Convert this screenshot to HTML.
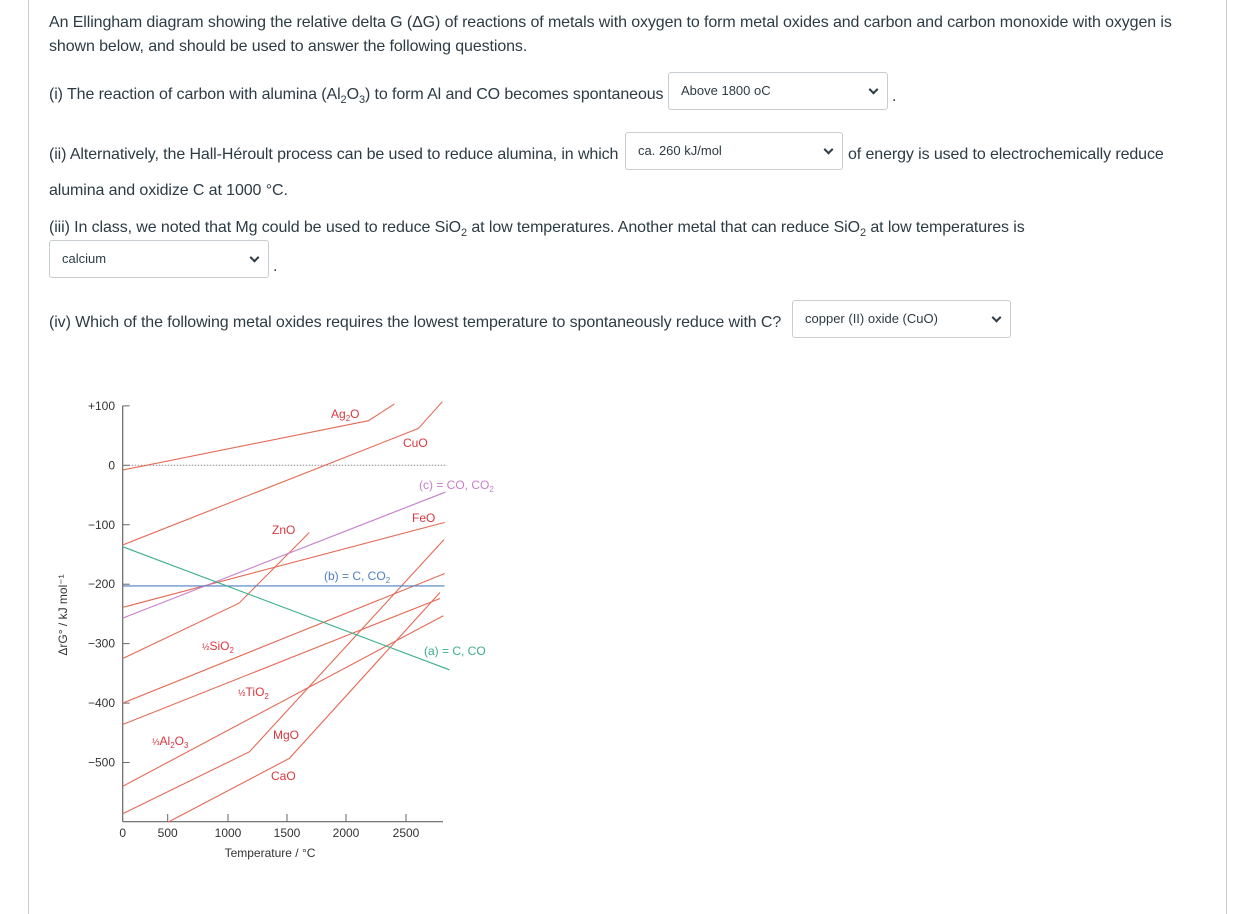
<!DOCTYPE html>
<html><head><meta charset="utf-8">
<style>
body{margin:0;width:1260px;height:914px;background:#fff;position:relative;overflow:hidden;font-family:"Liberation Sans",sans-serif;color:#2d3b45}
.t{position:absolute;font-size:16px;white-space:nowrap;line-height:18px;letter-spacing:-0.1px}
.sel{position:absolute;border:1px solid #c7cdd1;border-radius:3px;background:#fff;font-size:13px;box-sizing:border-box;padding:10px 12px;color:#2d3b45}
.sel:after{content:"";position:absolute;right:10px;top:50%;width:5px;height:5px;border-right:2px solid #2d3b45;border-bottom:2px solid #2d3b45;transform:translateY(-70%) rotate(45deg)}
.vl{position:absolute;top:0;bottom:0;width:1px;background:#c7cdd1}
sub{font-size:11px}
</style></head><body>
<div class="vl" style="left:28px"></div>
<div class="vl" style="left:1226px"></div>
<div class="t" style="left:49px;top:14px">An Ellingham diagram showing the relative delta G (ΔG) of reactions of metals with oxygen to form metal oxides and carbon and carbon monoxide with oxygen is</div>
<div class="t" style="left:49px;top:38px">shown below, and should be used to answer the following questions.</div>
<div class="t" style="left:49px;top:86px">(i) The reaction of carbon with alumina (Al<sub>2</sub>O<sub>3</sub>) to form Al and CO becomes spontaneous</div>
<div class="sel" style="left:668px;top:72px;width:220px;height:38px;padding-top:10px">Above 1800 oC</div>
<div class="t" style="left:892px;top:88px">.</div>
<div class="t" style="left:49px;top:146px">(ii) Alternatively, the Hall-Héroult process can be used to reduce alumina, in which</div>
<div class="sel" style="left:625px;top:132px;width:218px;height:38px">ca. 260 kJ/mol</div>
<div class="t" style="left:848px;top:146px">of energy is used to electrochemically reduce</div>
<div class="t" style="left:49px;top:182px">alumina and oxidize C at 1000 °C.</div>
<div class="t" style="left:49px;top:219px">(iii) In class, we noted that Mg could be used to reduce SiO<sub>2</sub> at low temperatures. Another metal that can reduce SiO<sub>2</sub> at low temperatures is</div>
<div class="sel" style="left:49px;top:240px;width:220px;height:38px">calcium</div>
<div class="t" style="left:273px;top:258px">.</div>
<div class="t" style="left:49px;top:314px">(iv) Which of the following metal oxides requires the lowest temperature to spontaneously reduce with C?</div>
<div class="sel" style="left:792px;top:300px;width:219px;height:38px">copper (II) oxide (CuO)</div>

<svg id="chart" width="1260" height="914" style="position:absolute;left:0;top:0"></svg>
<script>
const xTicks=[0,500,1000,1500,2000,2500];
const yTicks=[100,0,-100,-200,-300,-400,-500];
const yTickLabels=["+100","0","\u2212100","\u2212200","\u2212300","\u2212400","\u2212500"];
const agT=[0,2187,2403], agV=[-8,75,103];
const cuT=[0,2605,2808], cuV=[-134,62,107];
const coCo2T=[0,2835], coCo2V=[-257,-45];
const feT=[0,2829], feV=[-239,-96];
const znT=[0,1093,1689], znV=[-325,-232,-113];
const cCo2T=[0,2827], cCo2V=[-203,-203];
const cCoT=[0,2868], cCoV=[-137,-344];
const siT=[0,2829], siV=[-400,-182];
const tiT=[0,2788], tiV=[-436,-224];
const alT=[0,2816], alV=[-540,-253];
const mgT=[0,1181,2822], mgV=[-586,-482,-125];
const caT=[505,1520,2788], caV=[-600,-493,-214];
const NS="http://www.w3.org/2000/svg";
const svg=document.getElementById('chart');
const xDom=[0,500,1000,1500,2000,2500,3000], xRng=[122.7,167.7,228,287,346,406,465];
function X(t){
 for(let i=0;i<xDom.length-1;i++){
  if(t<=xDom[i+1]||i===xDom.length-2){
   const f=(t-xDom[i])/(xDom[i+1]-xDom[i]);return xRng[i]+f*(xRng[i+1]-xRng[i]);
  }
 }
}
const Y=v=>465.3-v*0.5945;
function el(tag,attrs,parent){const e=document.createElementNS(NS,tag);for(const k in attrs)e.setAttribute(k,attrs[k]);(parent||svg).appendChild(e);return e;}
const axis="#666";
let a=el('line',{x1:X(0),y1:Y(100),x2:X(0),y2:821.7,stroke:axis,'stroke-width':1.2});

a=el('line',{x1:X(0),y1:821.7,x2:443,y2:821.7,stroke:axis,'stroke-width':1.2});

yTicks.forEach((v,i)=>{
 const tk=el('line',{x1:X(0),y1:Y(v),x2:X(0)+7,y2:Y(v),stroke:axis});
 
 const tx=el('text',{x:115,y:Y(v)+4,'text-anchor':'end','font-size':12,fill:'#333','font-family':'Liberation Sans'});
 tx.textContent=yTickLabels[i];
 
});
xTicks.forEach(t=>{
 if(t>0){const tk=el('line',{x1:X(t),y1:821.7,x2:X(t),y2:814,stroke:axis});
 }
 const tx=el('text',{x:X(t),y:837,'text-anchor':'middle','font-size':12,fill:'#333','font-family':'Liberation Sans'});
 tx.textContent=String(t);
 
});
let zl=el('line',{x1:X(0),y1:Y(0),x2:447,y2:Y(0),stroke:'#888','stroke-dasharray':'1.5,1.5'});

let xt=el('text',{x:270,y:857,'text-anchor':'middle','font-size':12,fill:'#333','font-family':'Liberation Sans'});
xt.textContent='Temperature / °C';

let yt=el('text',{x:0,y:0,'text-anchor':'middle','font-size':12,fill:'#333','font-family':'Liberation Sans',transform:'translate(67,615) rotate(-90)'});
yt.textContent='ΔrG° / kJ mol⁻¹';

const red="#e46a55";
function series(T,V,color,name){
 const p=el('polyline',{points:T.map((t,i)=>X(t)+','+Y(V[i])).join(' '),fill:'none',stroke:color,'stroke-width':1.1});
 
}
series(agT,agV,red,'ag2o-line');
series(cuT,cuV,red,'cuo-line');
series(feT,feV,red,'feo-line');
series(znT,znV,red,'zno-line');
series(siT,siV,red,'sio2-line');
series(tiT,tiV,red,'tio2-line');
series(alT,alV,red,'al2o3-line');
series(mgT,mgV,red,'mgo-line');
series(caT,caV,red,'cao-line');
series(coCo2T,coCo2V,'#c77dcc','co-co2-line');
series(cCo2T,cCo2V,'#4f7fbf','c-co2-line');
series(cCoT,cCoV,'#3aae8c','c-co-line');
function lab(x,y,html,color,name){
 const t=el('text',{x:x,y:y,'font-size':12,fill:color,'font-family':'Liberation Sans'});
 t.innerHTML=html;
 
}
const lr="#d9363e";
lab(331,418,'Ag<tspan dy="3" font-size="8">2</tspan><tspan dy="-3">O</tspan>',lr,'ag2o-label');
lab(403,447,'CuO',lr,'cuo-label');
lab(419,489,'(c) = CO, CO<tspan dy="3" font-size="8">2</tspan>','#c77dcc','co-co2-label');
lab(412,522,'FeO',lr,'feo-label');
lab(272,534,'ZnO',lr,'zno-label');
lab(324,580,'(b) = C, CO<tspan dy="3" font-size="8">2</tspan>','#4f7fbf','c-co2-label');
lab(424,655,'(a) = C, CO','#3aae8c','c-co-label');
lab(202,650,'<tspan font-size="9">½</tspan>SiO<tspan dy="3" font-size="8">2</tspan>',lr,'sio2-label');
lab(238,696,'<tspan font-size="9">½</tspan>TiO<tspan dy="3" font-size="8">2</tspan>',lr,'tio2-label');
lab(152,745,'<tspan font-size="9">⅓</tspan>Al<tspan dy="3" font-size="8">2</tspan><tspan dy="-3">O</tspan><tspan dy="3" font-size="8">3</tspan>',lr,'al2o3-label');
lab(273,739,'MgO',lr,'mgo-label');
lab(271,780,'CaO',lr,'cao-label');
</script>
</body></html>
